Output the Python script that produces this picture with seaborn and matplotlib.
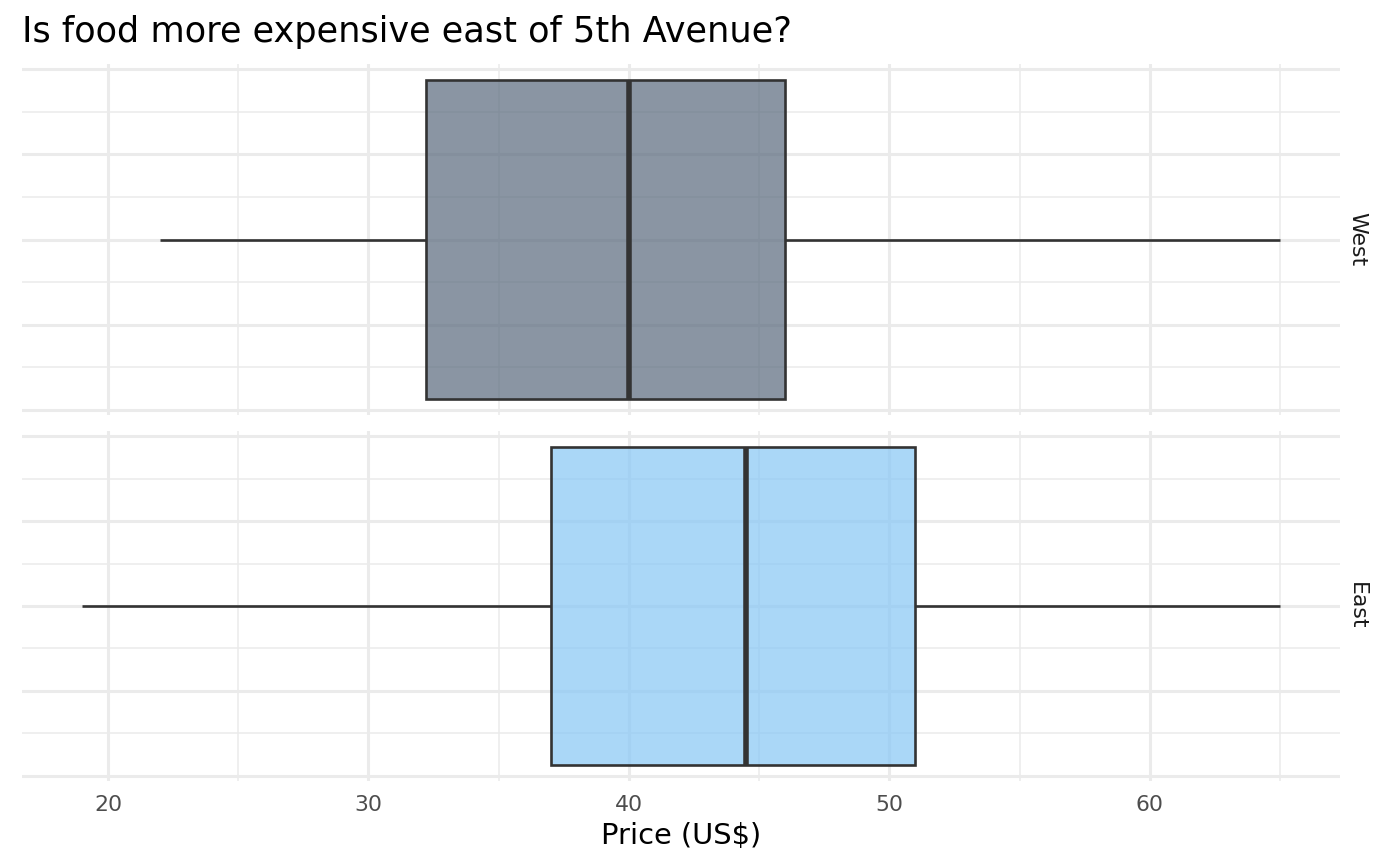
import numpy as np
import pandas as pd
import matplotlib.pyplot as plt
import seaborn as sns

# five-number summaries (min, Q1, median, Q3, max)
groups = ["West", "East"]
west_prices = [22.0, 32.2, 40.0, 46.0, 65.0]
east_prices = [19.0, 37.0, 44.5, 51.0, 65.0]
fill_colors = {"West": "#58697c", "East": "#86c6f5"}

df = pd.DataFrame({
    "side": ["West"] * len(west_prices) + ["East"] * len(east_prices),
    "price": west_prices + east_prices,
})

sns.set_theme(style="white")
plt.rcParams['font.family'] = ['DejaVu Sans']

fig = plt.figure(figsize=(14, 8.66), dpi=100)
left, width = 22 / 1400, (1340 - 22) / 1400
panels = {
    "West": [left, 1 - 415.4 / 866, width, (415.4 - 63.6) / 866],
    "East": [left, 1 - 781 / 866, width, (781 - 431) / 866],
}

grid_col = "#ebebeb"
line_col = "#333333"

for side in groups:
    ax = fig.add_axes(panels[side])
    sub = df[df["side"] == side]
    sns.boxplot(x=sub["price"], ax=ax, orient="h", width=0.75, whis=1.5,
                showfliers=False, showcaps=False, color=fill_colors[side],
                saturation=1, linecolor=line_col, linewidth=1.9,
                medianprops={"linewidth": 4.0, "color": line_col})
    for p in ax.patches:
        p.set_facecolor(fill_colors[side])
        fc = p.get_facecolor()
        p.set_facecolor((fc[0], fc[1], fc[2], 0.7))
    ax.set_xlim(16.7, 67.3)
    ax.set_ylim(-0.4125, 0.4125)
    ax.set_yticks([-0.4, -0.2, 0, 0.2, 0.4])
    ax.set_yticks([-0.3, -0.1, 0.1, 0.3], minor=True)
    ax.set_xticks([20, 30, 40, 50, 60])
    ax.set_xticks([25, 35, 45, 55, 65], minor=True)
    ax.set_axisbelow(True)
    ax.grid(which="major", color=grid_col, linewidth=2.2)
    ax.grid(which="minor", color=grid_col, linewidth=1.1)
    ax.tick_params(which="both", length=0, left=False, bottom=False)
    ax.set_yticklabels([])
    ax.set_ylabel("")
    ax.set_xlabel("")
    for s in ax.spines.values():
        s.set_visible(False)
    if side == "West":
        ax.set_xticklabels([])
    else:
        ax.tick_params(axis="x", labelsize=15.8, labelcolor="#4d4d4d", pad=10)
        ax.set_xlabel("Price (US$)", fontsize=20.8, color="black", labelpad=5)
    ax.text(1.013, 0.5, side, transform=ax.transAxes, rotation=-90,
            ha="center", va="center", fontsize=15.8, color="#1a1a1a")

fig.text(22 / 1400, 1 - 42 / 866, "Is food more expensive east of 5th Avenue?",
         ha="left", va="baseline", fontsize=25.3, color="black")

fig.savefig("out.png", dpi=100, facecolor="white")
